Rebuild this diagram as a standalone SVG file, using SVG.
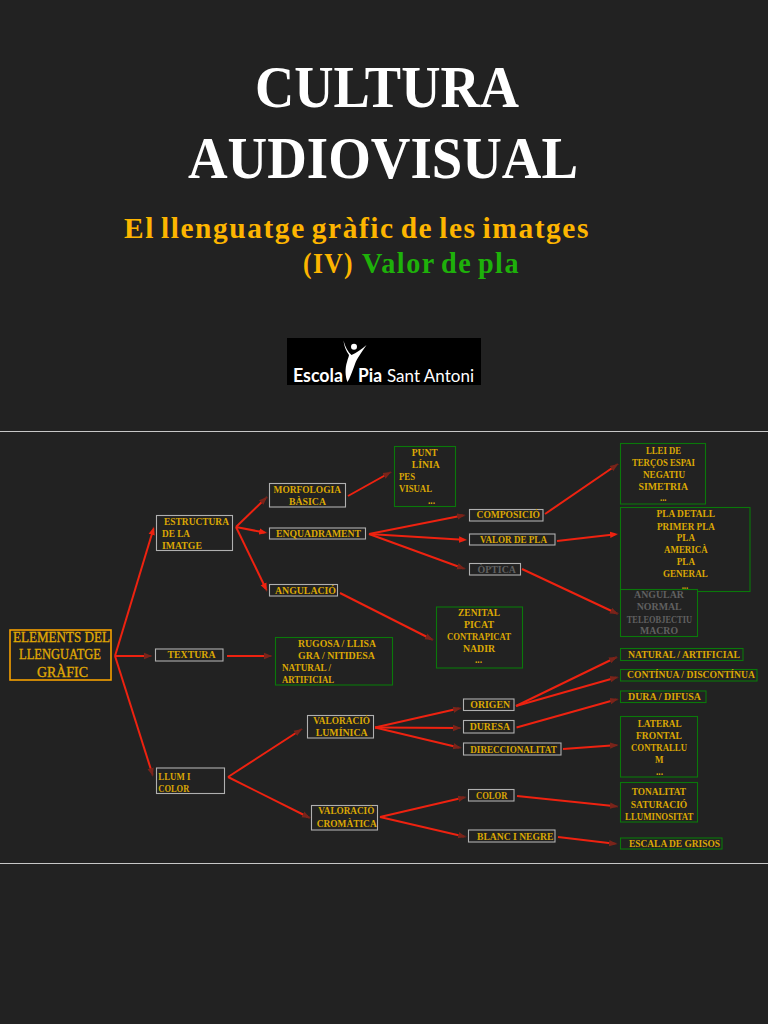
<svg xmlns="http://www.w3.org/2000/svg" width="768" height="1024" viewBox="0 0 768 1024">
<style>
text{font-family:"Liberation Serif","Times New Roman",serif}
.b{fill:#222;stroke:#b0b0b0;stroke-width:1.1}
.g{fill:#222;stroke:#0a780a;stroke-width:1.1}
.m{fill:#222;stroke:#f5a000;stroke-width:1.6}
.t text{font-size:11px;font-weight:bold;fill:#dba804}
.t text.big{font-size:15.5px;font-weight:normal;fill:#e0aa04;stroke:#e0aa04;stroke-width:.35}
.t.g2 text,.t text.gr{fill:#606060}
.tl{font-size:60px;font-weight:bold;fill:#fff}
.st{font-size:30px;font-weight:bold;fill:#fdb500;letter-spacing:1.6px;word-spacing:-3px}
#connectors line{stroke:#ee2210;stroke-width:2;fill:none}
.d{marker-end:url(#ad)}
.r{marker-end:url(#ar)}
.lg{font-family:Lato,"Open Sans",sans-serif;font-size:18px;fill:#fff}
</style>
<defs>
<marker id="ad" markerUnits="userSpaceOnUse" markerWidth="9" markerHeight="8" refX="8" refY="4" orient="auto"><path d="M0 0.8L8 4L0 7.2Z" fill="#7a241a"/><path d="M5 2.8L8 4L8 2.8ZM5 5.2L8 4L8 5.2Z" fill="#222"/></marker>
<marker id="ar" markerUnits="userSpaceOnUse" markerWidth="9" markerHeight="8" refX="8" refY="4" orient="auto"><path d="M0 0.8L8 4L0 7.2Z" fill="#ee2210"/><path d="M5 2.8L8 4L8 2.8ZM5 5.2L8 4L8 5.2Z" fill="#222"/></marker>
</defs>
<rect width="768" height="1024" fill="#222"/>
<g id="title">
<text class="tl" x="255" y="106.5" textLength="264" lengthAdjust="spacingAndGlyphs">CULTURA</text>
<text class="tl" x="188" y="178" textLength="390" lengthAdjust="spacingAndGlyphs">AUDIOVISUAL</text>
<text class="st" x="124" y="238" textLength="466" lengthAdjust="spacingAndGlyphs">El llenguatge gràfic de les imatges</text>
<text class="st" x="303" y="273" textLength="51" lengthAdjust="spacingAndGlyphs">(IV)</text>
<text class="st" x="362" y="273" textLength="158" lengthAdjust="spacingAndGlyphs" style="fill:#1eb10a">Valor de pla</text>
</g>
<g id="logo">
<rect x="287" y="338" width="194" height="47" fill="#000"/>
<circle cx="354" cy="346.7" r="3" fill="#fff"/>
<path d="M343.5 340.5C345 347 348 352 351.5 355C356 353 362 349 366.5 345C362 352 357 358 355 364C352 372 350 378 347.5 382C345 376 345 368 347 362C348 358 349 356 349 355C346 351 344 346 343.5 340.5Z" fill="#fff"/>
<text class="lg" x="293" y="382" textLength="50" lengthAdjust="spacingAndGlyphs" font-weight="bold">Escola</text>
<text class="lg" x="358" y="382" textLength="24" lengthAdjust="spacingAndGlyphs" font-weight="bold">Pia</text>
<text class="lg" x="387" y="382" textLength="87" lengthAdjust="spacingAndGlyphs">Sant Antoni</text>
</g>
<path d="M0 431.5H768M0 863.5H768" stroke="#c8c8c8" stroke-width="1" fill="none"/>
<g id="connectors">
<line class="r" x1="115" y1="656" x2="154" y2="527"/>
<line class="d" x1="115" y1="656" x2="152" y2="656"/>
<line class="d" x1="115" y1="656" x2="153" y2="776"/>
<line class="d" x1="236" y1="527" x2="267" y2="497"/>
<line class="r" x1="236" y1="527" x2="267" y2="533"/>
<line class="r" x1="236" y1="527" x2="267" y2="591"/>
<line class="d" x1="348" y1="496" x2="391" y2="472"/>
<line class="d" x1="369" y1="534" x2="465" y2="515"/>
<line class="r" x1="369" y1="534" x2="467" y2="540"/>
<line class="d" x1="369" y1="534" x2="465" y2="569"/>
<line class="d" x1="340" y1="593" x2="433" y2="640"/>
<line class="d" x1="227" y1="656" x2="272" y2="656"/>
<line class="d" x1="545" y1="514" x2="618" y2="464"/>
<line class="r" x1="557" y1="541" x2="618" y2="534"/>
<line class="d" x1="522" y1="569" x2="618" y2="614"/>
<line class="d" x1="516" y1="706" x2="617" y2="657"/>
<line class="d" x1="516" y1="706" x2="618" y2="677"/>
<line class="d" x1="516.5" y1="727.5" x2="618" y2="699"/>
<line class="d" x1="563" y1="749" x2="618" y2="745"/>
<line class="d" x1="517" y1="796" x2="618" y2="806.5"/>
<line class="d" x1="558" y1="837" x2="617" y2="844"/>
<line class="d" x1="375" y1="727.5" x2="461" y2="708"/>
<line class="d" x1="375" y1="727.5" x2="461" y2="728"/>
<line class="d" x1="375" y1="727.5" x2="461" y2="748"/>
<line class="d" x1="380" y1="817" x2="466" y2="797"/>
<line class="d" x1="380" y1="817" x2="466" y2="837"/>
<line class="d" x1="228" y1="777" x2="302" y2="729"/>
<line class="d" x1="228" y1="777" x2="310" y2="818"/>
</g>
<g id="n-elements" class="t"><rect class="m" x="10" y="630" width="101" height="50"/>
<text class="big" x="13" y="642" textLength="97" lengthAdjust="spacingAndGlyphs">ELEMENTS DEL</text>
<text class="big" x="19" y="659" textLength="82" lengthAdjust="spacingAndGlyphs">LLENGUATGE</text>
<text class="big" x="37" y="677" textLength="51" lengthAdjust="spacingAndGlyphs">GRÀFIC</text></g>
<g id="n-estructura" class="t"><rect class="b" x="156.5" y="515.5" width="76" height="35"/>
<text x="164" y="524.5" textLength="65" lengthAdjust="spacingAndGlyphs">ESTRUCTURA</text><text x="162" y="536.5" textLength="28" lengthAdjust="spacingAndGlyphs">DE LA</text><text x="162" y="549" textLength="40" lengthAdjust="spacingAndGlyphs">IMATGE</text></g>
<g id="n-textura" class="t"><rect class="b" x="155.5" y="649" width="67.5" height="12"/><text x="167.5" y="658" textLength="48" lengthAdjust="spacingAndGlyphs">TEXTURA</text></g>
<g id="n-llum" class="t"><rect class="b" x="156.5" y="768" width="68" height="25.5"/><text x="158.3" y="780" textLength="32" lengthAdjust="spacingAndGlyphs">LLUM I</text><text x="158.3" y="792" textLength="31" lengthAdjust="spacingAndGlyphs">COLOR</text></g>
<g id="n-morfologia" class="t"><rect class="b" x="269.5" y="483.5" width="76" height="23.5"/><text x="273.5" y="492.7" textLength="67.5" lengthAdjust="spacingAndGlyphs">MORFOLOGIA</text><text x="289" y="505" textLength="37" lengthAdjust="spacingAndGlyphs">BÀSICA</text></g>
<g id="n-enquadrament" class="t"><rect class="b" x="269.5" y="528" width="96" height="11"/><text x="276" y="537" textLength="85" lengthAdjust="spacingAndGlyphs">ENQUADRAMENT</text></g>
<g id="n-angulacio" class="t"><rect class="b" x="269.5" y="584.5" width="68" height="11.5"/><text x="275" y="594" textLength="61" lengthAdjust="spacingAndGlyphs">ANGULACIÓ</text></g>
<g id="n-rugosa" class="t"><rect class="g" x="275.5" y="637.5" width="117" height="47.5"/><text x="298" y="646.5" textLength="78" lengthAdjust="spacingAndGlyphs">RUGOSA / LLISA</text><text x="298" y="659" textLength="77" lengthAdjust="spacingAndGlyphs">GRA / NITIDESA</text><text x="282" y="670.5" textLength="49" lengthAdjust="spacingAndGlyphs">NATURAL /</text><text x="282" y="683" textLength="52" lengthAdjust="spacingAndGlyphs">ARTIFICIAL</text></g>
<g id="n-punt" class="t"><rect class="g" x="394.5" y="446.5" width="61" height="60"/><text x="411.7" y="456" textLength="26" lengthAdjust="spacingAndGlyphs">PUNT</text><text x="411.7" y="468" textLength="28" lengthAdjust="spacingAndGlyphs">LÍNIA</text><text x="399" y="480" textLength="16" lengthAdjust="spacingAndGlyphs">PES</text><text x="399" y="492" textLength="33" lengthAdjust="spacingAndGlyphs">VISUAL</text><text x="428" y="504" textLength="7" lengthAdjust="spacingAndGlyphs">...</text></g>
<g id="n-composicio" class="t"><rect class="b" x="469.5" y="509.5" width="73.5" height="11.5"/><text x="476.5" y="518" textLength="63.5" lengthAdjust="spacingAndGlyphs">COMPOSICIÓ</text></g>
<g id="n-valordepla" class="t"><rect class="b" x="469.5" y="534" width="85.5" height="11"/><text x="480" y="543" textLength="67" lengthAdjust="spacingAndGlyphs">VALOR DE PLA</text></g>
<g id="n-optica" class="t"><rect class="b" x="469.5" y="563.5" width="51" height="11.5"/><text class="gr" x="477.5" y="573" textLength="38.5" lengthAdjust="spacingAndGlyphs">ÒPTICA</text></g>
<g id="n-zenital" class="t"><rect class="g" x="436.5" y="607" width="86" height="61"/><text x="458" y="615.7" textLength="42" lengthAdjust="spacingAndGlyphs">ZENITAL</text><text x="464" y="628" textLength="30" lengthAdjust="spacingAndGlyphs">PICAT</text><text x="447" y="640" textLength="64" lengthAdjust="spacingAndGlyphs">CONTRAPICAT</text><text x="463" y="652" textLength="32" lengthAdjust="spacingAndGlyphs">NADIR</text><text x="475" y="663" textLength="7" lengthAdjust="spacingAndGlyphs">...</text></g>
<g id="n-llei" class="t"><rect class="g" x="620.5" y="443.5" width="85" height="60.5"/><text x="646" y="454.3" textLength="35" lengthAdjust="spacingAndGlyphs">LLEI DE</text><text x="632" y="466" textLength="63" lengthAdjust="spacingAndGlyphs">TERÇOS ESPAI</text><text x="643" y="478" textLength="42" lengthAdjust="spacingAndGlyphs">NEGATIU</text><text x="638.5" y="490" textLength="49.5" lengthAdjust="spacingAndGlyphs">SIMETRIA</text><text x="660" y="501" textLength="6.5" lengthAdjust="spacingAndGlyphs">...</text></g>
<g id="n-pladetall" class="t"><rect class="g" x="620.5" y="507.5" width="129.5" height="84"/><text x="656.5" y="517" textLength="58.5" lengthAdjust="spacingAndGlyphs">PLA DETALL</text><text x="657" y="529.5" textLength="58" lengthAdjust="spacingAndGlyphs">PRIMER PLA</text><text x="676.7" y="541" textLength="18.3" lengthAdjust="spacingAndGlyphs">PLA</text><text x="664" y="553" textLength="43.7" lengthAdjust="spacingAndGlyphs">AMERICÀ</text><text x="676.7" y="565" textLength="18.3" lengthAdjust="spacingAndGlyphs">PLA</text><text x="663" y="577" textLength="44.7" lengthAdjust="spacingAndGlyphs">GENERAL</text><text x="681.7" y="589" textLength="6.5" lengthAdjust="spacingAndGlyphs">...</text></g>
<g id="n-angular" class="t g2"><rect class="g" x="620.5" y="589.5" width="77" height="47"/><text x="634" y="598" textLength="50" lengthAdjust="spacingAndGlyphs">ANGULAR</text><text x="636.7" y="610" textLength="45" lengthAdjust="spacingAndGlyphs">NORMAL</text><text x="626.7" y="622.5" textLength="65.3" lengthAdjust="spacingAndGlyphs">TELEOBJECTIU</text><text x="640" y="634" textLength="38" lengthAdjust="spacingAndGlyphs">MACRO</text></g>
<g id="n-natural" class="t"><rect class="g" x="620.5" y="648.5" width="122.5" height="12"/><text x="628" y="657.7" textLength="112" lengthAdjust="spacingAndGlyphs">NATURAL / ARTIFICIAL</text></g>
<g id="n-continua" class="t"><rect class="g" x="620.5" y="669.5" width="136.5" height="11.5"/><text x="627" y="678" textLength="128" lengthAdjust="spacingAndGlyphs">CONTÍNUA / DISCONTÍNUA</text></g>
<g id="n-dura" class="t"><rect class="g" x="620.5" y="691" width="85.5" height="11.5"/><text x="628" y="699.5" textLength="73" lengthAdjust="spacingAndGlyphs">DURA / DIFUSA</text></g>
<g id="n-lateral" class="t"><rect class="g" x="620.5" y="716.5" width="77" height="60.5"/><text x="637.7" y="726.7" textLength="44" lengthAdjust="spacingAndGlyphs">LATERAL</text><text x="636" y="739" textLength="46" lengthAdjust="spacingAndGlyphs">FRONTAL</text><text x="631" y="750.5" textLength="56" lengthAdjust="spacingAndGlyphs">CONTRALLU</text><text x="655" y="763" textLength="8.5" lengthAdjust="spacingAndGlyphs">M</text><text x="656" y="775" textLength="7" lengthAdjust="spacingAndGlyphs">...</text></g>
<g id="n-tonalitat" class="t"><rect class="g" x="620.5" y="782.5" width="77" height="39.5"/><text x="631.7" y="795" textLength="54.3" lengthAdjust="spacingAndGlyphs">TONALITAT</text><text x="630.7" y="807.5" textLength="56.6" lengthAdjust="spacingAndGlyphs">SATURACIÓ</text><text x="625" y="820" textLength="68.3" lengthAdjust="spacingAndGlyphs">LLUMINOSITAT</text></g>
<g id="n-escala" class="t"><rect class="g" x="620.5" y="838" width="101.5" height="11"/><text x="629" y="846.5" textLength="91" lengthAdjust="spacingAndGlyphs">ESCALA DE GRISOS</text></g>
<g id="n-origen" class="t"><rect class="b" x="463.5" y="699" width="50.5" height="11.5"/><text x="470.3" y="708" textLength="39.7" lengthAdjust="spacingAndGlyphs">ORIGEN</text></g>
<g id="n-duresa" class="t"><rect class="b" x="463.5" y="720.5" width="50.5" height="12.5"/><text x="469.7" y="730" textLength="40.3" lengthAdjust="spacingAndGlyphs">DURESA</text></g>
<g id="n-direccionalitat" class="t"><rect class="b" x="463.5" y="743" width="97.5" height="12"/><text x="470.3" y="752.5" textLength="86.4" lengthAdjust="spacingAndGlyphs">DIRECCIONALITAT</text></g>
<g id="n-color" class="t"><rect class="b" x="468.5" y="789.5" width="45.5" height="11.5"/><text x="476" y="799" textLength="31.3" lengthAdjust="spacingAndGlyphs">COLOR</text></g>
<g id="n-blanc" class="t"><rect class="b" x="468.5" y="830" width="86.5" height="12"/><text x="477" y="839.5" textLength="76.3" lengthAdjust="spacingAndGlyphs">BLANC I NEGRE</text></g>
<g id="n-vlum" class="t"><rect class="b" x="307.5" y="715.5" width="66" height="22.5"/><text x="313.3" y="724.3" textLength="56.7" lengthAdjust="spacingAndGlyphs">VALORACIÓ</text><text x="315.7" y="736" textLength="52" lengthAdjust="spacingAndGlyphs">LUMÍNICA</text></g>
<g id="n-vcrom" class="t"><rect class="b" x="311.5" y="805.5" width="66" height="24.5"/><text x="318.3" y="814.3" textLength="56" lengthAdjust="spacingAndGlyphs">VALORACIÓ</text><text x="316.7" y="827" textLength="60" lengthAdjust="spacingAndGlyphs">CROMÀTICA</text></g>
</svg>
